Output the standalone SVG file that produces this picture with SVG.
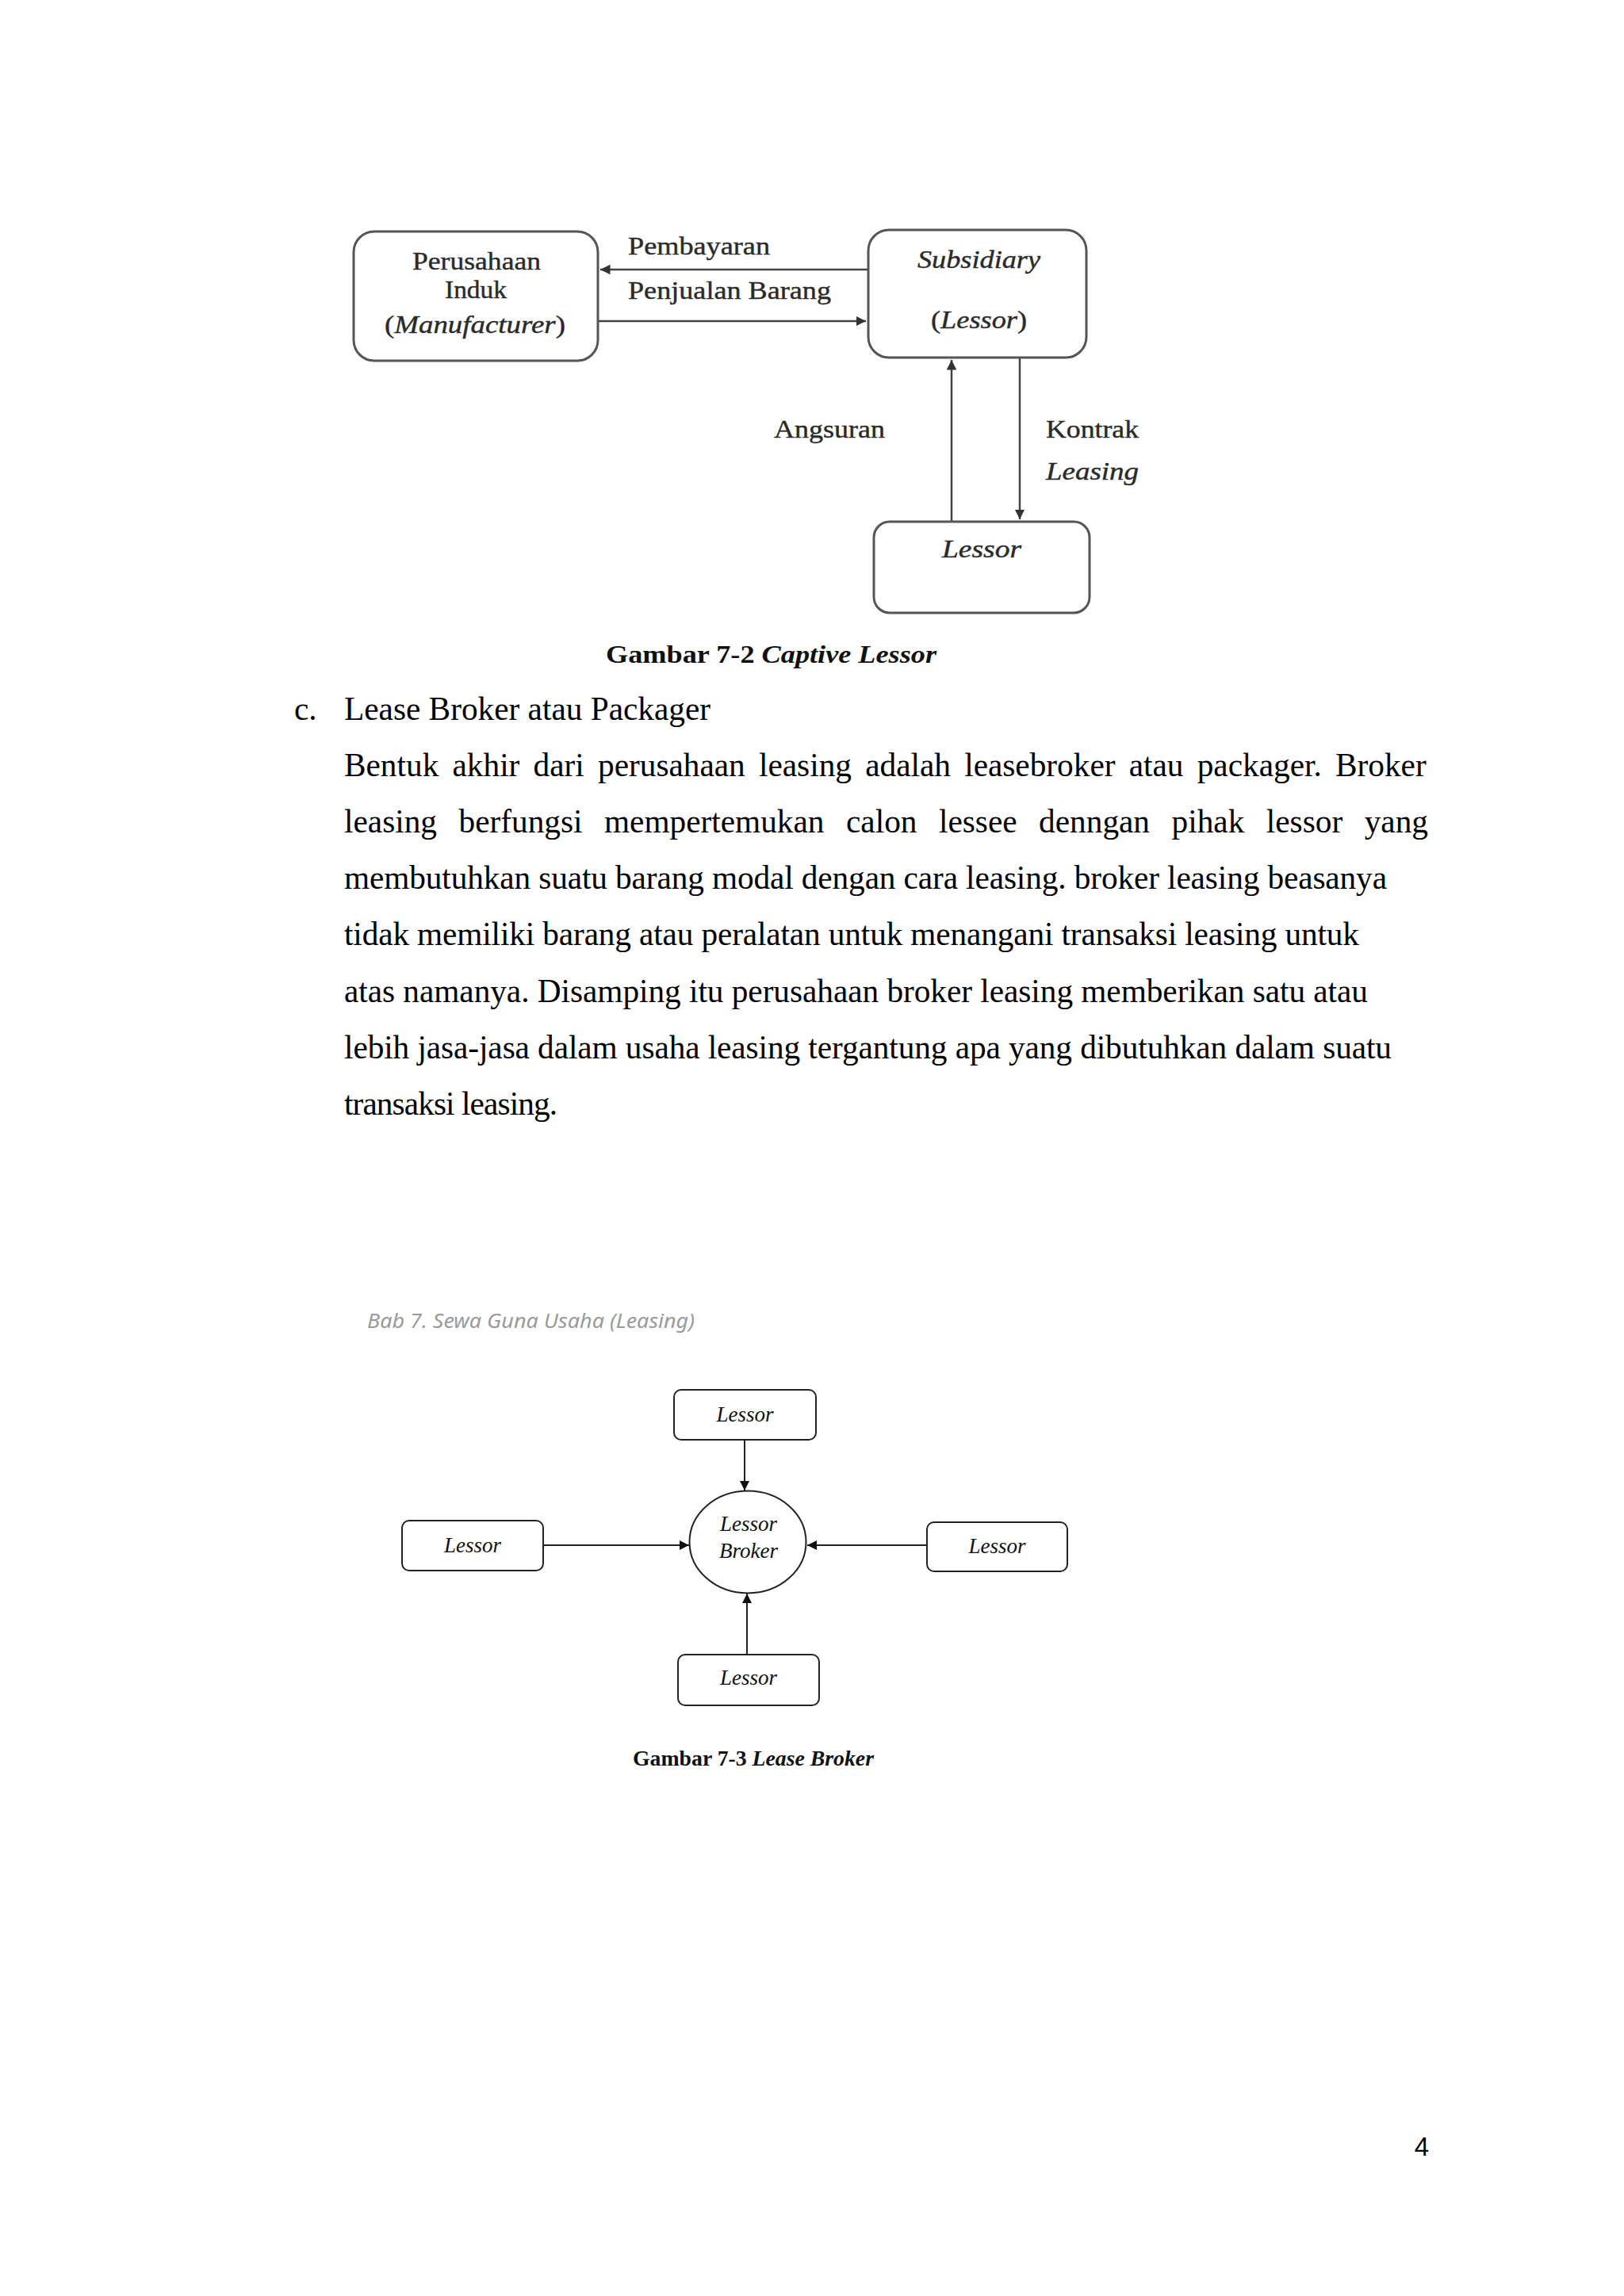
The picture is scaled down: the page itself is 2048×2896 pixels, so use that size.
<svg xmlns="http://www.w3.org/2000/svg" width="2048" height="2896" viewBox="0 0 2048 2896">
<style>
.t1{font-family:"Liberation Serif","Times New Roman",serif;font-size:32px;fill:#2a2a2a;stroke:#2a2a2a;stroke-width:0.4}
.box1{fill:#fff;stroke:#555;stroke-width:3}
.ln1{stroke:#444;stroke-width:2.5;fill:none}
.body{font-family:"Liberation Serif","Times New Roman",serif;font-size:41.3px;fill:#000}
.box2{fill:#fff;stroke:#222;stroke-width:2}
.ln2{stroke:#222;stroke-width:2;fill:none}
.t2{font-family:"Liberation Serif","Times New Roman",serif;font-size:27px;font-style:italic;fill:#111;text-anchor:middle}
.cap{font-family:"Liberation Serif","Times New Roman",serif;font-weight:bold;fill:#111}
</style>
<defs>
<marker id="ah1" viewBox="0 0 10 10" refX="10" refY="5" markerWidth="5" markerHeight="5" orient="auto" markerUnits="strokeWidth">
<path d="M0,0 L10,5 L0,10 z" fill="#333"/>
</marker>
<marker id="ah2" viewBox="0 0 10 10" refX="10" refY="5" markerWidth="7" markerHeight="6" orient="auto" markerUnits="strokeWidth">
<path d="M0,0 L10,5 L0,10 z" fill="#111"/>
</marker>
</defs>
<rect width="2048" height="2896" fill="#fff"/>

<!-- Figure 7-2 -->
<g id="connectors-72">
<line class="ln1" x1="1095" y1="340" x2="757" y2="340" marker-end="url(#ah1)"/>
<line class="ln1" x1="755" y1="405" x2="1092" y2="405" marker-end="url(#ah1)"/>
<line class="ln1" x1="1200" y1="658" x2="1200" y2="454" marker-end="url(#ah1)"/>
<line class="ln1" x1="1286" y1="452" x2="1286" y2="655" marker-end="url(#ah1)"/>
</g>
<g id="node-perusahaan">
<rect class="box1" x="446" y="292" width="308" height="163" rx="26"/>
<text class="t1" x="520" y="340" textLength="162" lengthAdjust="spacingAndGlyphs">Perusahaan</text>
<text class="t1" x="561" y="376" textLength="78" lengthAdjust="spacingAndGlyphs">Induk</text>
<text class="t1" x="485" y="420" textLength="228" lengthAdjust="spacingAndGlyphs">(<tspan font-style="italic">Manufacturer</tspan>)</text>
</g>
<g id="node-subsidiary">
<rect class="box1" x="1095" y="290" width="275" height="161" rx="26"/>
<text class="t1" x="1157" y="338" textLength="155" lengthAdjust="spacingAndGlyphs" font-style="italic">Subsidiary</text>
<text class="t1" x="1174" y="414" textLength="121" lengthAdjust="spacingAndGlyphs">(<tspan font-style="italic">Lessor</tspan>)</text>
</g>
<g id="node-lessor-72">
<rect class="box1" x="1102" y="658" width="272" height="115" rx="20"/>
<text class="t1" x="1188" y="703" textLength="100" lengthAdjust="spacingAndGlyphs" font-style="italic">Lessor</text>
</g>
<g id="labels-72">
<text class="t1" x="792" y="321" textLength="179" lengthAdjust="spacingAndGlyphs">Pembayaran</text>
<text class="t1" x="792" y="377" textLength="256" lengthAdjust="spacingAndGlyphs">Penjualan Barang</text>
<text class="t1" x="976" y="552" textLength="140" lengthAdjust="spacingAndGlyphs">Angsuran</text>
<text class="t1" x="1319" y="552" textLength="117" lengthAdjust="spacingAndGlyphs">Kontrak</text>
<text class="t1" x="1319" y="605" textLength="117" lengthAdjust="spacingAndGlyphs" font-style="italic">Leasing</text>
</g>
<text class="cap" x="764" y="836" font-size="31" textLength="417" lengthAdjust="spacingAndGlyphs">Gambar 7-2 <tspan font-style="italic">Captive Lessor</tspan></text>

<!-- Body text -->
<g id="body-text">
<text class="body" x="371" y="908">c.</text>
<text class="body" x="434" y="908">Lease Broker atau Packager</text>
<text class="body" x="434" y="979" word-spacing="6.9">Bentuk akhir dari perusahaan leasing adalah leasebroker atau packager. Broker</text>
<text class="body" x="434" y="1050" word-spacing="17.2">leasing berfungsi mempertemukan calon lessee denngan pihak lessor yang</text>
<text class="body" x="434" y="1121" textLength="1315" lengthAdjust="spacing">membutuhkan  suatu barang modal dengan cara leasing.  broker leasing  beasanya</text>
<text class="body" x="434" y="1192" textLength="1280" lengthAdjust="spacing">tidak memiliki  barang atau peralatan untuk menangani transaksi leasing untuk</text>
<text class="body" x="434" y="1264" textLength="1291" lengthAdjust="spacing">atas namanya.  Disamping  itu perusahaan  broker leasing  memberikan  satu atau</text>
<text class="body" x="434" y="1335" textLength="1321" lengthAdjust="spacing">lebih  jasa-jasa dalam usaha  leasing  tergantung  apa yang dibutuhkan  dalam suatu</text>
<text class="body" x="434" y="1406" textLength="269" lengthAdjust="spacing">transaksi  leasing.</text>
</g>

<!-- Figure 7-3 -->
<text x="463" y="1675" font-family="'Noto Sans','DejaVu Sans',sans-serif" font-style="italic" font-size="25" fill="#9a9a9a" textLength="413" lengthAdjust="spacingAndGlyphs">Bab 7. Sewa Guna Usaha (Leasing)</text>
<g id="connectors-73">
<line class="ln2" x1="939" y1="1816" x2="939" y2="1880" marker-end="url(#ah2)"/>
<line class="ln2" x1="685" y1="1949" x2="869" y2="1949" marker-end="url(#ah2)"/>
<line class="ln2" x1="1169" y1="1949" x2="1018" y2="1949" marker-end="url(#ah2)"/>
<line class="ln2" x1="942" y1="2087" x2="942" y2="2010" marker-end="url(#ah2)"/>
</g>
<g id="node-broker">
<ellipse class="box2" cx="943" cy="1945" rx="73.5" ry="64.5"/>
<text class="t2" x="944" y="1931">Lessor</text>
<text class="t2" x="944" y="1965">Broker</text>
</g>
<g id="node-lessor-top">
<rect class="box2" x="850" y="1753" width="179" height="63" rx="9"/>
<text class="t2" x="939.5" y="1793">Lessor</text>
</g>
<g id="node-lessor-left">
<rect class="box2" x="507" y="1918" width="178" height="63" rx="9"/>
<text class="t2" x="596" y="1958">Lessor</text>
</g>
<g id="node-lessor-right">
<rect class="box2" x="1169" y="1920" width="177" height="62" rx="9"/>
<text class="t2" x="1257.5" y="1959">Lessor</text>
</g>
<g id="node-lessor-bottom">
<rect class="box2" x="855" y="2087" width="178" height="64" rx="9"/>
<text class="t2" x="944" y="2125">Lessor</text>
</g>
<text class="cap" x="798" y="2227" font-size="27" textLength="304" lengthAdjust="spacingAndGlyphs">Gambar 7-3  <tspan font-style="italic">Lease Broker</tspan></text>

<text x="1793" y="2719" font-family="'Liberation Sans',Arial,sans-serif" font-size="33" fill="#000" text-anchor="middle">4</text>
</svg>
